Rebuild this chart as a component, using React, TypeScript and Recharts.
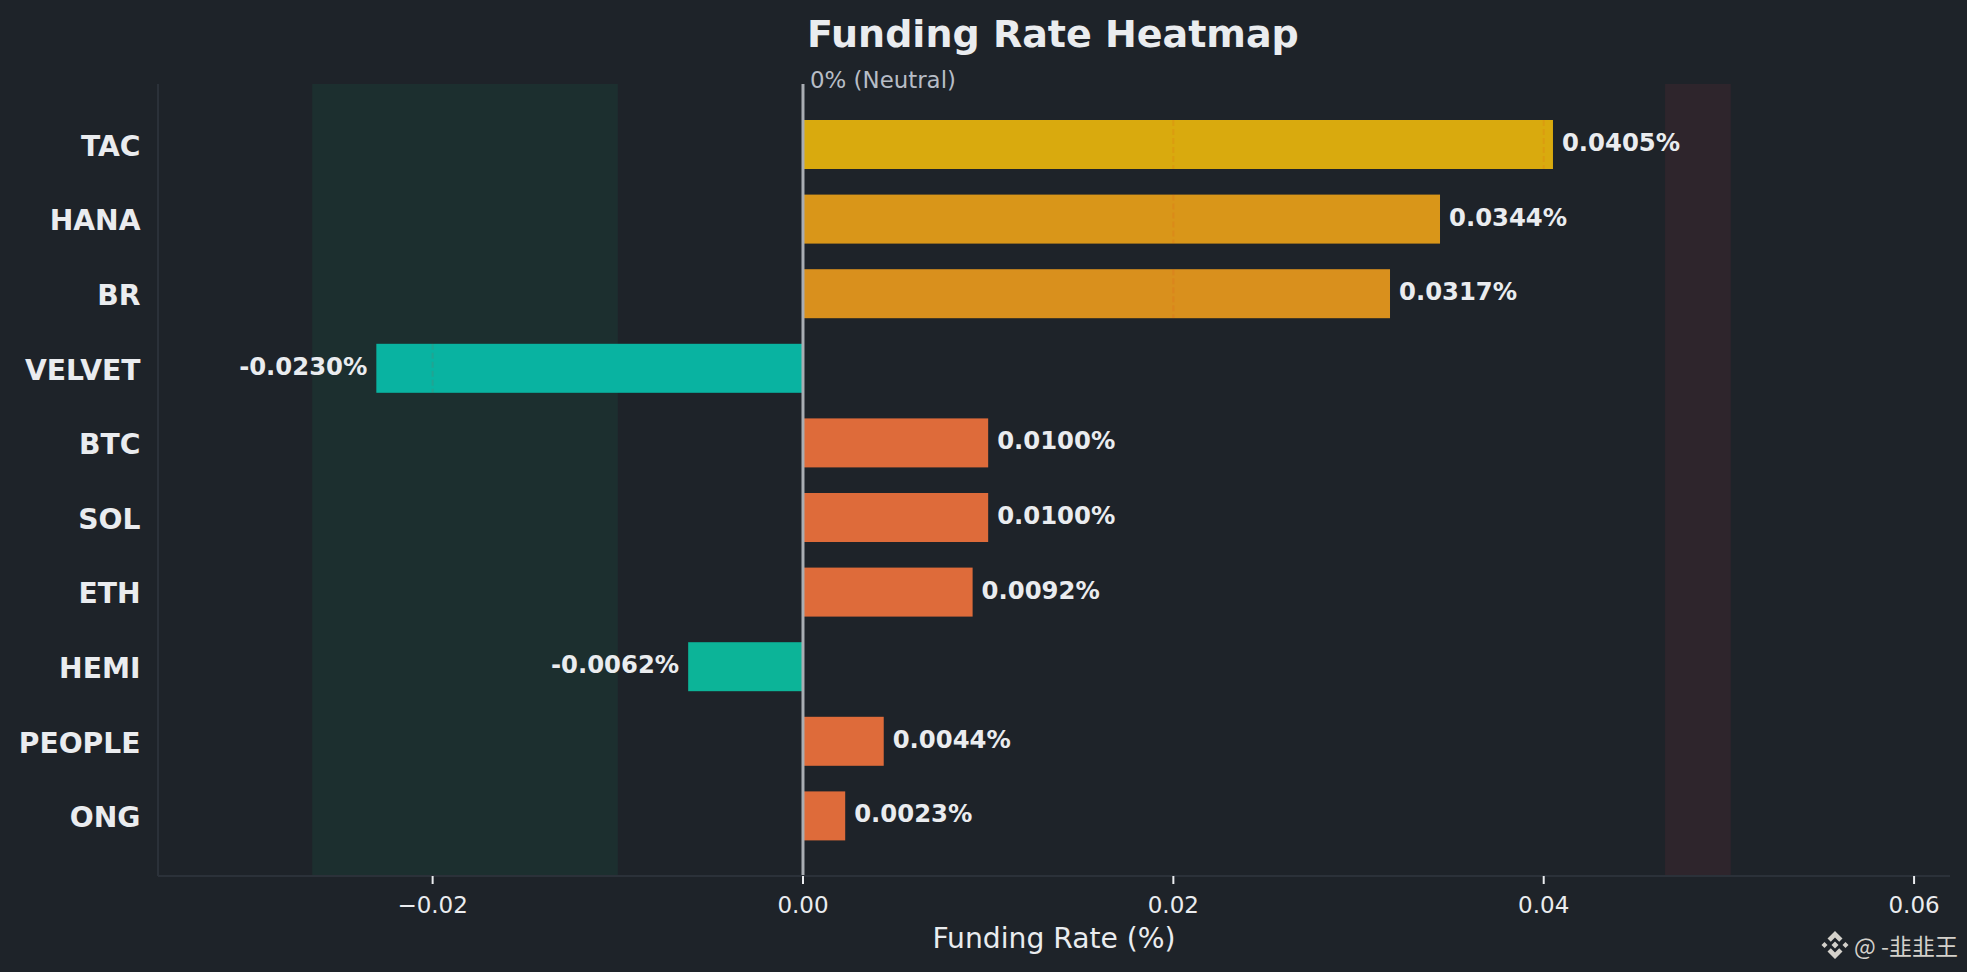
import React from 'react';
import { BarChart, Bar, XAxis, YAxis, Cell, ReferenceArea, ReferenceLine, LabelList } from 'recharts';

const symbols = ['TAC', 'HANA', 'BR', 'VELVET', 'BTC', 'SOL', 'ETH', 'HEMI', 'PEOPLE', 'ONG'];
const rates = [0.0405, 0.0344, 0.0317, -0.02304, 0.01, 0.01, 0.00916, -0.0062, 0.00436, 0.00228];
const barColors = ['#d9aa0e', '#d99619', '#d9901d', '#09b3a1', '#de6b3a', '#de6b3a', '#de6b3a', '#0cb498', '#de6b3a', '#de6b3a'];
const xTicks = [-0.02, 0, 0.02, 0.04, 0.06];
const xDomain = [-0.03483, 0.06194];
const greenZone = [-0.0265, -0.01];
const redZone = [0.04655, 0.0501];
const gridValues = [-0.02, 0.02, 0.04];

const data = symbols.map((name, i) => ({ name, rate: rates[i] }));

const BG = '#1e2329';
const TEXT = '#eaecef';
const FONT = '"DejaVu Sans", sans-serif';
const AXIS_PAD = 23;

const fmtTick = (v: number) => (v < 0 ? '\u2212' : '') + Math.abs(v).toFixed(2);

const ValueLabel = (props: any) => {
  const { x, y, width, height, value } = props;
  const neg = value < 0;
  const end = x + width;
  return (
    <text
      x={neg ? end - 9 : end + 9}
      y={y + height / 2 - 2}
      textAnchor={neg ? 'end' : 'start'}
      dominantBaseline="central"
      fill={TEXT}
      fontFamily={FONT}
      fontWeight="bold"
      fontSize={24.3}
    >
      {value.toFixed(4)}%
    </text>
  );
};

const NeutralLabel = (props: any) => {
  const { viewBox } = props;
  return (
    <text x={viewBox.x + 7} y={viewBox.y + 3.5} fill="#b7bdc6" fontFamily={FONT} fontSize={22.9}>
      0% (Neutral)
    </text>
  );
};

// Full-height span: the band axis padding is added back so it reaches the plot's edges.
const ZoneShape = (props: any) => {
  const { x, y, width, height, fill, fillOpacity } = props;
  return <rect x={x} y={y - AXIS_PAD} width={width} height={height + 2 * AXIS_PAD} fill={fill} fillOpacity={fillOpacity} />;
};

// A bar plus the faint dashed grid that shows only across the bar's body.
const BarWithGrid = (props: any) => {
  const { x, y, width, height, fill, rate } = props;
  const pxPerUnit = width / rate;
  const marks = gridValues.filter((g) => g * rate > 0 && Math.abs(g) < Math.abs(rate));
  return (
    <g>
      <rect x={Math.min(x, x + width)} y={y} width={Math.abs(width)} height={height} fill={fill} />
      {marks.map((g) => (
        <line
          key={g}
          x1={x + g * pxPerUnit}
          x2={x + g * pxPerUnit}
          y1={y}
          y2={y + height}
          stroke="#f52a20"
          strokeOpacity={0.1}
          strokeWidth={2}
          strokeDasharray="6 3"
        />
      ))}
    </g>
  );
};

export default function App() {
  return (
    <div style={{ position: 'fixed', left: 0, top: 0, width: 1967, height: 972, background: BG, overflow: 'hidden' }}>
      <BarChart
        width={1967}
        height={972}
        layout="vertical"
        data={data}
        margin={{ top: 84, right: 17, bottom: 0, left: 0 }}
        barSize={49}
      >
        <XAxis
          type="number"
          domain={xDomain}
          ticks={xTicks}
          allowDataOverflow
          tickFormatter={fmtTick}
          height={96}
          axisLine={{ stroke: '#2b3139', strokeWidth: 2 }}
          tickLine={{ stroke: TEXT, strokeWidth: 2 }}
          tickSize={8}
          tickMargin={13}
          tick={{ fill: TEXT, fontFamily: FONT, fontSize: 23 }}
          label={{ value: 'Funding Rate (%)', position: 'insideBottom', offset: 24, fill: TEXT, fontFamily: FONT, fontSize: 28.2 }}
        />
        <YAxis
          type="category"
          dataKey="name"
          width={158}
          padding={{ top: AXIS_PAD, bottom: AXIS_PAD }}
          axisLine={{ stroke: '#2b3139', strokeWidth: 2 }}
          tickLine={false}
          tickMargin={11.5}
          tick={{ fill: TEXT, fontFamily: FONT, fontSize: 28.2, fontWeight: 'bold', dy: 1.5 }}
          interval={0}
        />
        <ReferenceArea x1={greenZone[0]} x2={greenZone[1]} fill="#0ecb81" fillOpacity={0.075} stroke="none" shape={ZoneShape} />
        <ReferenceArea x1={redZone[0]} x2={redZone[1]} fill="#f6465d" fillOpacity={0.08} stroke="none" shape={ZoneShape} />
        <Bar dataKey="rate" isAnimationActive={false} shape={BarWithGrid}>
          {data.map((d, i) => (
            <Cell key={d.name} fill={barColors[i]} />
          ))}
          <LabelList dataKey="rate" content={ValueLabel} />
        </Bar>
        <ReferenceLine x={0} stroke="#a9adb3" strokeWidth={3} label={<NeutralLabel />} />
      </BarChart>
      <div
        style={{
          position: 'absolute',
          left: 807,
          top: 10,
          fontFamily: FONT,
          fontWeight: 'bold',
          fontSize: 38,
          color: TEXT,
          lineHeight: '48px',
          whiteSpace: 'nowrap',
        }}
      >
        Funding Rate Heatmap
      </div>
      <div
        style={{
          position: 'absolute',
          left: 1821,
          top: 930,
          height: 30,
          display: 'flex',
          alignItems: 'center',
          color: '#d4d1cb',
          fontSize: 23,
          whiteSpace: 'nowrap',
          fontFamily: '"Noto Sans CJK SC", sans-serif',
        }}
      >
        <svg width="28" height="28" viewBox="0 0 28 28" style={{ marginRight: 5 }}>
          <g fill="#d4d1cb">
            <path d="M14 0 L21.5 7.5 L18.2 10.8 L14 6.6 L9.8 10.8 L6.5 7.5 Z" />
            <path d="M14 28 L6.5 20.5 L9.8 17.2 L14 21.4 L18.2 17.2 L21.5 20.5 Z" />
            <path d="M14 10.5 L17.5 14 L14 17.5 L10.5 14 Z" />
            <path d="M3.5 11 L6.5 14 L3.5 17 L0.5 14 Z" />
            <path d="M24.5 11 L27.5 14 L24.5 17 L21.5 14 Z" />
          </g>
        </svg>
        <span>@ -韭韭王</span>
      </div>
    </div>
  );
}
